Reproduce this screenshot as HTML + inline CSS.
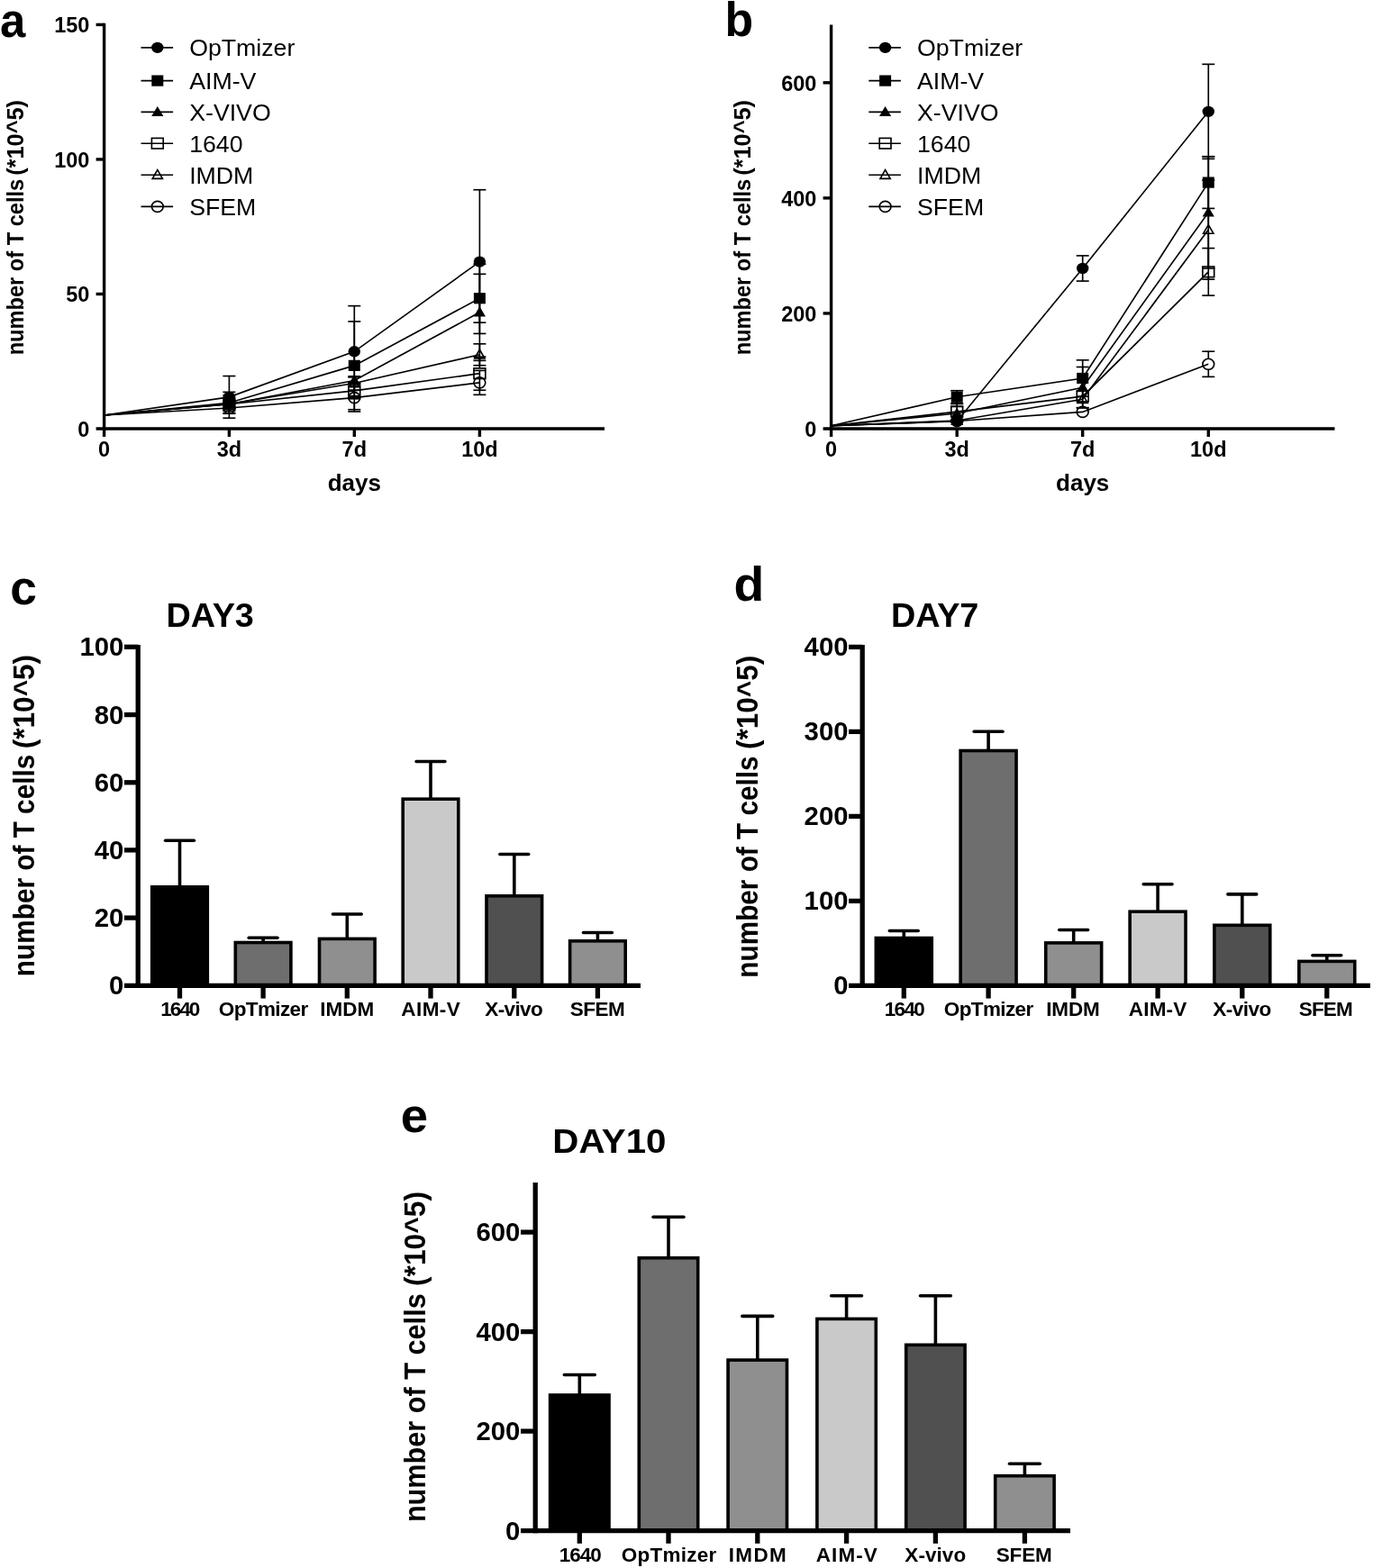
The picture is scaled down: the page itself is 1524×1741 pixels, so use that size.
<!DOCTYPE html>
<html lang="en">
<head>
<meta charset="utf-8">
<title>T cell expansion in different media</title>
<style>html,body{margin:0;padding:0;background:#fff}svg{display:block}</style>
</head>
<body>
<svg width="1524" height="1741" viewBox="0 0 1524 1741" font-family='"Liberation Sans", Arial, Helvetica, sans-serif' fill="#000">
<rect width="1524" height="1741" fill="#fff"/>
<g>
<text x="0" y="40.5" font-size="54.5" font-weight="bold" textLength="28.3" lengthAdjust="spacingAndGlyphs">a</text>
<line x1="115.6" y1="25.75" x2="115.6" y2="485" stroke="#000" stroke-width="3.4"/>
<line x1="106.6" y1="476" x2="671" y2="476" stroke="#000" stroke-width="3.4"/>
<text x="99.4" y="484.9" font-size="23.5" font-weight="bold" text-anchor="end">0</text>
<line x1="106.6" y1="326.47" x2="115.6" y2="326.47" stroke="#000" stroke-width="3.4"/>
<text x="99.4" y="335.37" font-size="23.5" font-weight="bold" text-anchor="end">50</text>
<line x1="106.6" y1="176.94" x2="115.6" y2="176.94" stroke="#000" stroke-width="3.4"/>
<text x="99.4" y="185.84" font-size="23.5" font-weight="bold" text-anchor="end">100</text>
<line x1="106.6" y1="27.41" x2="115.6" y2="27.41" stroke="#000" stroke-width="3.4"/>
<text x="99.4" y="36.31" font-size="23.5" font-weight="bold" text-anchor="end">150</text>
<text x="115.6" y="507" font-size="23.5" font-weight="bold" text-anchor="middle">0</text>
<line x1="254.4" y1="476" x2="254.4" y2="485" stroke="#000" stroke-width="3.4"/>
<text x="254.4" y="507" font-size="23.5" font-weight="bold" text-anchor="middle">3d</text>
<line x1="393.3" y1="476" x2="393.3" y2="485" stroke="#000" stroke-width="3.4"/>
<text x="393.3" y="507" font-size="23.5" font-weight="bold" text-anchor="middle">7d</text>
<line x1="532.4" y1="476" x2="532.4" y2="485" stroke="#000" stroke-width="3.4"/>
<text x="532.4" y="507" font-size="23.5" font-weight="bold" text-anchor="middle">10d</text>
<text x="393.3" y="545" font-size="26" font-weight="bold" text-anchor="middle">days</text>
<text x="25.6" y="394.3" font-size="26" font-weight="bold" textLength="195.54" lengthAdjust="spacingAndGlyphs" transform="rotate(-90 25.6 394.3)">number of T cells</text>
<text x="25.6" y="111" font-size="26" font-weight="bold" text-anchor="end" textLength="83.86" lengthAdjust="spacingAndGlyphs" transform="rotate(-90 25.6 111)">(*10^5)</text>
<line x1="156.5" y1="52.9" x2="192.1" y2="52.9" stroke="#000" stroke-width="1.65"/>
<ellipse cx="174.8" cy="52.9" rx="6.7" ry="6.2" fill="#000"/>
<text x="210.2" y="62.2" font-size="26.7">OpTmizer</text>
<line x1="156.5" y1="89.6" x2="192.1" y2="89.6" stroke="#000" stroke-width="1.65"/>
<rect x="168.3" y="83.5" width="13" height="12.2" fill="#000"/>
<text x="210.2" y="98.9" font-size="26.7">AIM-V</text>
<line x1="156.5" y1="124.4" x2="192.1" y2="124.4" stroke="#000" stroke-width="1.65"/>
<path d="M174.8 117.9L181.4 129L168.2 129Z" fill="#000"/>
<text x="210.2" y="133.7" font-size="26.7">X-VIVO</text>
<line x1="156.5" y1="159.2" x2="192.1" y2="159.2" stroke="#000" stroke-width="1.65"/>
<rect x="168.4" y="153.4" width="12.8" height="11.6" fill="none" stroke="#000" stroke-width="1.65"/>
<text x="210.2" y="168.5" font-size="26.7">1640</text>
<line x1="156.5" y1="194.2" x2="192.1" y2="194.2" stroke="#000" stroke-width="1.65"/>
<path d="M174.8 188.7L180.4 198.3L169.2 198.3Z" fill="none" stroke="#000" stroke-width="1.65" stroke-linejoin="miter"/>
<text x="210.2" y="203.5" font-size="26.7">IMDM</text>
<line x1="156.5" y1="229.3" x2="192.1" y2="229.3" stroke="#000" stroke-width="1.65"/>
<ellipse cx="174.8" cy="229.3" rx="6.4" ry="6" fill="none" stroke="#000" stroke-width="1.65"/>
<text x="210.2" y="238.6" font-size="26.7">SFEM</text>
<line x1="254.4" y1="417.53" x2="254.4" y2="464.19" stroke="#000" stroke-width="1.65"/>
<line x1="247.4" y1="417.53" x2="261.4" y2="417.53" stroke="#000" stroke-width="1.65"/>
<line x1="247.4" y1="464.19" x2="261.4" y2="464.19" stroke="#000" stroke-width="1.65"/>
<line x1="393.3" y1="339.63" x2="393.3" y2="441.01" stroke="#000" stroke-width="1.65"/>
<line x1="386.3" y1="339.63" x2="400.3" y2="339.63" stroke="#000" stroke-width="1.65"/>
<line x1="386.3" y1="441.01" x2="400.3" y2="441.01" stroke="#000" stroke-width="1.65"/>
<line x1="532.4" y1="210.73" x2="532.4" y2="370.43" stroke="#000" stroke-width="1.65"/>
<line x1="525.4" y1="210.73" x2="539.4" y2="210.73" stroke="#000" stroke-width="1.65"/>
<line x1="525.4" y1="370.43" x2="539.4" y2="370.43" stroke="#000" stroke-width="1.65"/>
<ellipse cx="254.4" cy="440.86" rx="6.7" ry="6.2" fill="#000"/>
<ellipse cx="393.3" cy="390.32" rx="6.7" ry="6.2" fill="#000"/>
<ellipse cx="532.4" cy="290.58" rx="6.7" ry="6.2" fill="#000"/>
<polyline points="115.6,461.05 254.4,440.86 393.3,390.32 532.4,290.58" fill="none" stroke="#000" stroke-width="1.65"/>
<line x1="254.4" y1="435.33" x2="254.4" y2="459.25" stroke="#000" stroke-width="1.65"/>
<line x1="247.4" y1="435.33" x2="261.4" y2="435.33" stroke="#000" stroke-width="1.65"/>
<line x1="247.4" y1="459.25" x2="261.4" y2="459.25" stroke="#000" stroke-width="1.65"/>
<line x1="393.3" y1="356.97" x2="393.3" y2="454.77" stroke="#000" stroke-width="1.65"/>
<line x1="386.3" y1="356.97" x2="400.3" y2="356.97" stroke="#000" stroke-width="1.65"/>
<line x1="386.3" y1="454.77" x2="400.3" y2="454.77" stroke="#000" stroke-width="1.65"/>
<line x1="532.4" y1="304.34" x2="532.4" y2="358.17" stroke="#000" stroke-width="1.65"/>
<line x1="525.4" y1="304.34" x2="539.4" y2="304.34" stroke="#000" stroke-width="1.65"/>
<line x1="525.4" y1="358.17" x2="539.4" y2="358.17" stroke="#000" stroke-width="1.65"/>
<rect x="247.9" y="441.19" width="13" height="12.2" fill="#000"/>
<rect x="386.8" y="399.77" width="13" height="12.2" fill="#000"/>
<rect x="525.9" y="325.15" width="13" height="12.2" fill="#000"/>
<polyline points="115.6,461.05 254.4,447.29 393.3,405.87 532.4,331.25" fill="none" stroke="#000" stroke-width="1.65"/>
<line x1="254.4" y1="441.31" x2="254.4" y2="456.26" stroke="#000" stroke-width="1.65"/>
<line x1="247.4" y1="441.31" x2="261.4" y2="441.31" stroke="#000" stroke-width="1.65"/>
<line x1="247.4" y1="456.26" x2="261.4" y2="456.26" stroke="#000" stroke-width="1.65"/>
<line x1="393.3" y1="418.88" x2="393.3" y2="426.06" stroke="#000" stroke-width="1.65"/>
<line x1="386.3" y1="418.88" x2="400.3" y2="418.88" stroke="#000" stroke-width="1.65"/>
<line x1="386.3" y1="426.06" x2="400.3" y2="426.06" stroke="#000" stroke-width="1.65"/>
<line x1="532.4" y1="293.27" x2="532.4" y2="400.34" stroke="#000" stroke-width="1.65"/>
<line x1="525.4" y1="293.27" x2="539.4" y2="293.27" stroke="#000" stroke-width="1.65"/>
<line x1="525.4" y1="400.34" x2="539.4" y2="400.34" stroke="#000" stroke-width="1.65"/>
<path d="M254.4 442.29L261 453.39L247.8 453.39Z" fill="#000"/>
<path d="M393.3 415.97L399.9 427.07L386.7 427.07Z" fill="#000"/>
<path d="M532.4 340.31L539 351.41L525.8 351.41Z" fill="#000"/>
<polyline points="115.6,461.05 254.4,448.79 393.3,422.47 532.4,346.81" fill="none" stroke="#000" stroke-width="1.65"/>
<line x1="254.4" y1="438.92" x2="254.4" y2="442.99" stroke="#000" stroke-width="1.65"/>
<line x1="254.4" y1="454.59" x2="254.4" y2="458.65" stroke="#000" stroke-width="1.65"/>
<line x1="247.4" y1="438.92" x2="261.4" y2="438.92" stroke="#000" stroke-width="1.65"/>
<line x1="247.4" y1="458.65" x2="261.4" y2="458.65" stroke="#000" stroke-width="1.65"/>
<line x1="393.3" y1="424.86" x2="393.3" y2="428.03" stroke="#000" stroke-width="1.65"/>
<line x1="393.3" y1="439.63" x2="393.3" y2="442.8" stroke="#000" stroke-width="1.65"/>
<line x1="386.3" y1="424.86" x2="400.3" y2="424.86" stroke="#000" stroke-width="1.65"/>
<line x1="386.3" y1="442.8" x2="400.3" y2="442.8" stroke="#000" stroke-width="1.65"/>
<line x1="532.4" y1="396.15" x2="532.4" y2="408.89" stroke="#000" stroke-width="1.65"/>
<line x1="532.4" y1="420.49" x2="532.4" y2="433.23" stroke="#000" stroke-width="1.65"/>
<line x1="525.4" y1="396.15" x2="539.4" y2="396.15" stroke="#000" stroke-width="1.65"/>
<line x1="525.4" y1="433.23" x2="539.4" y2="433.23" stroke="#000" stroke-width="1.65"/>
<rect x="248" y="442.99" width="12.8" height="11.6" fill="none" stroke="#000" stroke-width="1.65"/>
<rect x="386.9" y="428.03" width="12.8" height="11.6" fill="none" stroke="#000" stroke-width="1.65"/>
<rect x="526" y="408.89" width="12.8" height="11.6" fill="none" stroke="#000" stroke-width="1.65"/>
<polyline points="115.6,461.05 254.4,448.79 393.3,433.83 532.4,414.69" fill="none" stroke="#000" stroke-width="1.65"/>
<line x1="254.4" y1="442.51" x2="254.4" y2="442.99" stroke="#000" stroke-width="1.65"/>
<line x1="254.4" y1="452.59" x2="254.4" y2="454.47" stroke="#000" stroke-width="1.65"/>
<line x1="393.3" y1="417.83" x2="393.3" y2="419.96" stroke="#000" stroke-width="1.65"/>
<line x1="393.3" y1="429.56" x2="393.3" y2="433.08" stroke="#000" stroke-width="1.65"/>
<line x1="386.3" y1="417.83" x2="400.3" y2="417.83" stroke="#000" stroke-width="1.65"/>
<line x1="386.3" y1="433.08" x2="400.3" y2="433.08" stroke="#000" stroke-width="1.65"/>
<line x1="532.4" y1="381.8" x2="532.4" y2="388.26" stroke="#000" stroke-width="1.65"/>
<line x1="532.4" y1="397.86" x2="532.4" y2="405.72" stroke="#000" stroke-width="1.65"/>
<line x1="525.4" y1="381.8" x2="539.4" y2="381.8" stroke="#000" stroke-width="1.65"/>
<line x1="525.4" y1="405.72" x2="539.4" y2="405.72" stroke="#000" stroke-width="1.65"/>
<path d="M254.4 442.99L260 452.59L248.8 452.59Z" fill="none" stroke="#000" stroke-width="1.65" stroke-linejoin="miter"/>
<path d="M393.3 419.96L398.9 429.56L387.7 429.56Z" fill="none" stroke="#000" stroke-width="1.65" stroke-linejoin="miter"/>
<path d="M532.4 388.26L538 397.86L526.8 397.86Z" fill="none" stroke="#000" stroke-width="1.65" stroke-linejoin="miter"/>
<polyline points="115.6,461.05 254.4,448.49 393.3,425.46 532.4,393.76" fill="none" stroke="#000" stroke-width="1.65"/>
<line x1="393.3" y1="426.21" x2="393.3" y2="435.61" stroke="#000" stroke-width="1.65"/>
<line x1="393.3" y1="447.61" x2="393.3" y2="457.01" stroke="#000" stroke-width="1.65"/>
<line x1="386.3" y1="426.21" x2="400.3" y2="426.21" stroke="#000" stroke-width="1.65"/>
<line x1="386.3" y1="457.01" x2="400.3" y2="457.01" stroke="#000" stroke-width="1.65"/>
<line x1="532.4" y1="411.4" x2="532.4" y2="418.86" stroke="#000" stroke-width="1.65"/>
<line x1="532.4" y1="430.86" x2="532.4" y2="438.32" stroke="#000" stroke-width="1.65"/>
<line x1="525.4" y1="411.4" x2="539.4" y2="411.4" stroke="#000" stroke-width="1.65"/>
<line x1="525.4" y1="438.32" x2="539.4" y2="438.32" stroke="#000" stroke-width="1.65"/>
<ellipse cx="254.4" cy="452.97" rx="6.4" ry="6" fill="none" stroke="#000" stroke-width="1.65"/>
<ellipse cx="393.3" cy="441.61" rx="6.4" ry="6" fill="none" stroke="#000" stroke-width="1.65"/>
<ellipse cx="532.4" cy="424.86" rx="6.4" ry="6" fill="none" stroke="#000" stroke-width="1.65"/>
<polyline points="115.6,461.05 254.4,452.97 393.3,441.61 532.4,424.86" fill="none" stroke="#000" stroke-width="1.65"/>
</g>
<g>
<text x="804.5" y="40.2" font-size="54.5" font-weight="bold" textLength="31.6" lengthAdjust="spacingAndGlyphs">b</text>
<line x1="922.6" y1="27.6" x2="922.6" y2="485" stroke="#000" stroke-width="3.4"/>
<line x1="913.6" y1="476" x2="1481.5" y2="476" stroke="#000" stroke-width="3.4"/>
<text x="906.4" y="484.9" font-size="23.5" font-weight="bold" text-anchor="end">0</text>
<line x1="913.6" y1="347.94" x2="922.6" y2="347.94" stroke="#000" stroke-width="3.4"/>
<text x="906.4" y="356.84" font-size="23.5" font-weight="bold" text-anchor="end">200</text>
<line x1="913.6" y1="219.88" x2="922.6" y2="219.88" stroke="#000" stroke-width="3.4"/>
<text x="906.4" y="228.78" font-size="23.5" font-weight="bold" text-anchor="end">400</text>
<line x1="913.6" y1="91.82" x2="922.6" y2="91.82" stroke="#000" stroke-width="3.4"/>
<text x="906.4" y="100.72" font-size="23.5" font-weight="bold" text-anchor="end">600</text>
<text x="922.6" y="507" font-size="23.5" font-weight="bold" text-anchor="middle">0</text>
<line x1="1062.2" y1="476" x2="1062.2" y2="485" stroke="#000" stroke-width="3.4"/>
<text x="1062.2" y="507" font-size="23.5" font-weight="bold" text-anchor="middle">3d</text>
<line x1="1201.7" y1="476" x2="1201.7" y2="485" stroke="#000" stroke-width="3.4"/>
<text x="1201.7" y="507" font-size="23.5" font-weight="bold" text-anchor="middle">7d</text>
<line x1="1341.3" y1="476" x2="1341.3" y2="485" stroke="#000" stroke-width="3.4"/>
<text x="1341.3" y="507" font-size="23.5" font-weight="bold" text-anchor="middle">10d</text>
<text x="1201.7" y="545" font-size="26" font-weight="bold" text-anchor="middle">days</text>
<text x="832.6" y="394.3" font-size="26" font-weight="bold" textLength="195.54" lengthAdjust="spacingAndGlyphs" transform="rotate(-90 832.6 394.3)">number of T cells</text>
<text x="832.6" y="111" font-size="26" font-weight="bold" text-anchor="end" textLength="83.86" lengthAdjust="spacingAndGlyphs" transform="rotate(-90 832.6 111)">(*10^5)</text>
<line x1="964.3" y1="52.9" x2="999.9" y2="52.9" stroke="#000" stroke-width="1.65"/>
<ellipse cx="982.6" cy="52.9" rx="6.7" ry="6.2" fill="#000"/>
<text x="1018" y="62.2" font-size="26.7">OpTmizer</text>
<line x1="964.3" y1="89.6" x2="999.9" y2="89.6" stroke="#000" stroke-width="1.65"/>
<rect x="976.1" y="83.5" width="13" height="12.2" fill="#000"/>
<text x="1018" y="98.9" font-size="26.7">AIM-V</text>
<line x1="964.3" y1="124.4" x2="999.9" y2="124.4" stroke="#000" stroke-width="1.65"/>
<path d="M982.6 117.9L989.2 129L976 129Z" fill="#000"/>
<text x="1018" y="133.7" font-size="26.7">X-VIVO</text>
<line x1="964.3" y1="159.2" x2="999.9" y2="159.2" stroke="#000" stroke-width="1.65"/>
<rect x="976.2" y="153.4" width="12.8" height="11.6" fill="none" stroke="#000" stroke-width="1.65"/>
<text x="1018" y="168.5" font-size="26.7">1640</text>
<line x1="964.3" y1="194.2" x2="999.9" y2="194.2" stroke="#000" stroke-width="1.65"/>
<path d="M982.6 188.7L988.2 198.3L977 198.3Z" fill="none" stroke="#000" stroke-width="1.65" stroke-linejoin="miter"/>
<text x="1018" y="203.5" font-size="26.7">IMDM</text>
<line x1="964.3" y1="229.3" x2="999.9" y2="229.3" stroke="#000" stroke-width="1.65"/>
<ellipse cx="982.6" cy="229.3" rx="6.4" ry="6" fill="none" stroke="#000" stroke-width="1.65"/>
<text x="1018" y="238.6" font-size="26.7">SFEM</text>
<line x1="1062.2" y1="466.72" x2="1062.2" y2="468.64" stroke="#000" stroke-width="1.65"/>
<line x1="1055.2" y1="466.72" x2="1069.2" y2="466.72" stroke="#000" stroke-width="1.65"/>
<line x1="1055.2" y1="468.64" x2="1069.2" y2="468.64" stroke="#000" stroke-width="1.65"/>
<line x1="1201.7" y1="283.91" x2="1201.7" y2="312.08" stroke="#000" stroke-width="1.65"/>
<line x1="1194.7" y1="283.91" x2="1208.7" y2="283.91" stroke="#000" stroke-width="1.65"/>
<line x1="1194.7" y1="312.08" x2="1208.7" y2="312.08" stroke="#000" stroke-width="1.65"/>
<line x1="1341.3" y1="71.33" x2="1341.3" y2="176.34" stroke="#000" stroke-width="1.65"/>
<line x1="1334.3" y1="71.33" x2="1348.3" y2="71.33" stroke="#000" stroke-width="1.65"/>
<line x1="1334.3" y1="176.34" x2="1348.3" y2="176.34" stroke="#000" stroke-width="1.65"/>
<ellipse cx="1062.2" cy="467.68" rx="6.7" ry="6.2" fill="#000"/>
<ellipse cx="1201.7" cy="298" rx="6.7" ry="6.2" fill="#000"/>
<ellipse cx="1341.3" cy="123.84" rx="6.7" ry="6.2" fill="#000"/>
<polyline points="922.6,472.8 1062.2,467.68 1201.7,298 1341.3,123.84" fill="none" stroke="#000" stroke-width="1.65"/>
<line x1="1062.2" y1="433.74" x2="1062.2" y2="447.83" stroke="#000" stroke-width="1.65"/>
<line x1="1055.2" y1="433.74" x2="1069.2" y2="433.74" stroke="#000" stroke-width="1.65"/>
<line x1="1055.2" y1="447.83" x2="1069.2" y2="447.83" stroke="#000" stroke-width="1.65"/>
<line x1="1201.7" y1="399.8" x2="1201.7" y2="440.14" stroke="#000" stroke-width="1.65"/>
<line x1="1194.7" y1="399.8" x2="1208.7" y2="399.8" stroke="#000" stroke-width="1.65"/>
<line x1="1194.7" y1="440.14" x2="1208.7" y2="440.14" stroke="#000" stroke-width="1.65"/>
<line x1="1341.3" y1="173.78" x2="1341.3" y2="231.41" stroke="#000" stroke-width="1.65"/>
<line x1="1334.3" y1="173.78" x2="1348.3" y2="173.78" stroke="#000" stroke-width="1.65"/>
<line x1="1334.3" y1="231.41" x2="1348.3" y2="231.41" stroke="#000" stroke-width="1.65"/>
<rect x="1055.7" y="434.68" width="13" height="12.2" fill="#000"/>
<rect x="1195.2" y="413.87" width="13" height="12.2" fill="#000"/>
<rect x="1334.8" y="196.49" width="13" height="12.2" fill="#000"/>
<polyline points="922.6,472.8 1062.2,440.78 1201.7,419.97 1341.3,202.59" fill="none" stroke="#000" stroke-width="1.65"/>
<line x1="1062.2" y1="451.35" x2="1062.2" y2="466.72" stroke="#000" stroke-width="1.65"/>
<line x1="1055.2" y1="451.35" x2="1069.2" y2="451.35" stroke="#000" stroke-width="1.65"/>
<line x1="1055.2" y1="466.72" x2="1069.2" y2="466.72" stroke="#000" stroke-width="1.65"/>
<line x1="1201.7" y1="407.49" x2="1201.7" y2="452.95" stroke="#000" stroke-width="1.65"/>
<line x1="1194.7" y1="407.49" x2="1208.7" y2="407.49" stroke="#000" stroke-width="1.65"/>
<line x1="1194.7" y1="452.95" x2="1208.7" y2="452.95" stroke="#000" stroke-width="1.65"/>
<line x1="1341.3" y1="173.78" x2="1341.3" y2="298" stroke="#000" stroke-width="1.65"/>
<line x1="1334.3" y1="173.78" x2="1348.3" y2="173.78" stroke="#000" stroke-width="1.65"/>
<line x1="1334.3" y1="298" x2="1348.3" y2="298" stroke="#000" stroke-width="1.65"/>
<path d="M1062.2 452.53L1068.8 463.63L1055.6 463.63Z" fill="#000"/>
<path d="M1201.7 423.72L1208.3 434.82L1195.1 434.82Z" fill="#000"/>
<path d="M1341.3 229.39L1347.9 240.49L1334.7 240.49Z" fill="#000"/>
<polyline points="922.6,472.8 1062.2,459.03 1201.7,430.22 1341.3,235.89" fill="none" stroke="#000" stroke-width="1.65"/>
<line x1="1062.2" y1="448.47" x2="1062.2" y2="451.31" stroke="#000" stroke-width="1.65"/>
<line x1="1062.2" y1="462.91" x2="1062.2" y2="465.76" stroke="#000" stroke-width="1.65"/>
<line x1="1055.2" y1="448.47" x2="1069.2" y2="448.47" stroke="#000" stroke-width="1.65"/>
<line x1="1055.2" y1="465.76" x2="1069.2" y2="465.76" stroke="#000" stroke-width="1.65"/>
<line x1="1341.3" y1="275.59" x2="1341.3" y2="296.04" stroke="#000" stroke-width="1.65"/>
<line x1="1341.3" y1="307.64" x2="1341.3" y2="328.09" stroke="#000" stroke-width="1.65"/>
<line x1="1334.3" y1="275.59" x2="1348.3" y2="275.59" stroke="#000" stroke-width="1.65"/>
<line x1="1334.3" y1="328.09" x2="1348.3" y2="328.09" stroke="#000" stroke-width="1.65"/>
<rect x="1055.8" y="451.31" width="12.8" height="11.6" fill="none" stroke="#000" stroke-width="1.65"/>
<rect x="1195.3" y="434.34" width="12.8" height="11.6" fill="none" stroke="#000" stroke-width="1.65"/>
<rect x="1334.9" y="296.04" width="12.8" height="11.6" fill="none" stroke="#000" stroke-width="1.65"/>
<polyline points="922.6,472.8 1062.2,457.11 1201.7,440.14 1341.3,301.84" fill="none" stroke="#000" stroke-width="1.65"/>
<line x1="1062.2" y1="471.14" x2="1062.2" y2="471.52" stroke="#000" stroke-width="1.65"/>
<line x1="1201.7" y1="434.06" x2="1201.7" y2="437.84" stroke="#000" stroke-width="1.65"/>
<line x1="1201.7" y1="447.44" x2="1201.7" y2="452.63" stroke="#000" stroke-width="1.65"/>
<line x1="1194.7" y1="434.06" x2="1208.7" y2="434.06" stroke="#000" stroke-width="1.65"/>
<line x1="1194.7" y1="452.63" x2="1208.7" y2="452.63" stroke="#000" stroke-width="1.65"/>
<line x1="1341.3" y1="200.03" x2="1341.3" y2="249.6" stroke="#000" stroke-width="1.65"/>
<line x1="1341.3" y1="259.2" x2="1341.3" y2="310.16" stroke="#000" stroke-width="1.65"/>
<line x1="1334.3" y1="200.03" x2="1348.3" y2="200.03" stroke="#000" stroke-width="1.65"/>
<line x1="1334.3" y1="310.16" x2="1348.3" y2="310.16" stroke="#000" stroke-width="1.65"/>
<path d="M1062.2 461.54L1067.8 471.14L1056.6 471.14Z" fill="none" stroke="#000" stroke-width="1.65" stroke-linejoin="miter"/>
<path d="M1201.7 437.84L1207.3 447.44L1196.1 447.44Z" fill="none" stroke="#000" stroke-width="1.65" stroke-linejoin="miter"/>
<path d="M1341.3 249.6L1346.9 259.2L1335.7 259.2Z" fill="none" stroke="#000" stroke-width="1.65" stroke-linejoin="miter"/>
<polyline points="922.6,472.8 1062.2,467.04 1201.7,443.34 1341.3,255.1" fill="none" stroke="#000" stroke-width="1.65"/>
<line x1="1341.3" y1="390.2" x2="1341.3" y2="398.29" stroke="#000" stroke-width="1.65"/>
<line x1="1341.3" y1="410.29" x2="1341.3" y2="418.37" stroke="#000" stroke-width="1.65"/>
<line x1="1334.3" y1="390.2" x2="1348.3" y2="390.2" stroke="#000" stroke-width="1.65"/>
<line x1="1334.3" y1="418.37" x2="1348.3" y2="418.37" stroke="#000" stroke-width="1.65"/>
<ellipse cx="1062.2" cy="467.48" rx="6.4" ry="6" fill="none" stroke="#000" stroke-width="1.65"/>
<ellipse cx="1201.7" cy="457.43" rx="6.4" ry="6" fill="none" stroke="#000" stroke-width="1.65"/>
<ellipse cx="1341.3" cy="404.29" rx="6.4" ry="6" fill="none" stroke="#000" stroke-width="1.65"/>
<polyline points="922.6,472.8 1062.2,467.48 1201.7,457.43 1341.3,404.29" fill="none" stroke="#000" stroke-width="1.65"/>
</g>
<g>
<text x="11.3" y="671.3" font-size="54.5" font-weight="bold" textLength="29.7" lengthAdjust="spacingAndGlyphs">c</text>
<text x="184.5" y="696" font-size="36" font-weight="bold" textLength="97.4" lengthAdjust="spacingAndGlyphs">DAY3</text>
<line x1="199.5" y1="933.2" x2="199.5" y2="984" stroke="#000" stroke-width="3.6"/>
<line x1="183.6" y1="933.2" x2="215.4" y2="933.2" stroke="#000" stroke-width="3.6" stroke-linecap="round"/>
<rect x="168.7" y="984.8" width="61.6" height="109.6" fill="#000000" stroke="#000" stroke-width="3.6"/>
<line x1="199.5" y1="1094.4" x2="199.5" y2="1108.6" stroke="#000" stroke-width="5.3"/>
<line x1="292.1" y1="1041.3" x2="292.1" y2="1045.7" stroke="#000" stroke-width="3.6"/>
<line x1="276.2" y1="1041.3" x2="308" y2="1041.3" stroke="#000" stroke-width="3.6" stroke-linecap="round"/>
<rect x="261.3" y="1046.5" width="61.6" height="47.9" fill="#6e6e6e" stroke="#000" stroke-width="3.6"/>
<line x1="292.1" y1="1094.4" x2="292.1" y2="1108.6" stroke="#000" stroke-width="5.3"/>
<line x1="385.3" y1="1015" x2="385.3" y2="1041.6" stroke="#000" stroke-width="3.6"/>
<line x1="369.4" y1="1015" x2="401.2" y2="1015" stroke="#000" stroke-width="3.6" stroke-linecap="round"/>
<rect x="354.5" y="1042.4" width="61.6" height="52" fill="#8f8f8f" stroke="#000" stroke-width="3.6"/>
<line x1="385.3" y1="1094.4" x2="385.3" y2="1108.6" stroke="#000" stroke-width="5.3"/>
<line x1="478" y1="845.5" x2="478" y2="886.4" stroke="#000" stroke-width="3.6"/>
<line x1="462.1" y1="845.5" x2="493.9" y2="845.5" stroke="#000" stroke-width="3.6" stroke-linecap="round"/>
<rect x="447.2" y="887.2" width="61.6" height="207.2" fill="#c9c9c9" stroke="#000" stroke-width="3.6"/>
<line x1="478" y1="1094.4" x2="478" y2="1108.6" stroke="#000" stroke-width="5.3"/>
<line x1="570.8" y1="948.5" x2="570.8" y2="994" stroke="#000" stroke-width="3.6"/>
<line x1="554.9" y1="948.5" x2="586.7" y2="948.5" stroke="#000" stroke-width="3.6" stroke-linecap="round"/>
<rect x="540" y="994.8" width="61.6" height="99.6" fill="#505050" stroke="#000" stroke-width="3.6"/>
<line x1="570.8" y1="1094.4" x2="570.8" y2="1108.6" stroke="#000" stroke-width="5.3"/>
<line x1="663.4" y1="1035.5" x2="663.4" y2="1044" stroke="#000" stroke-width="3.6"/>
<line x1="647.5" y1="1035.5" x2="679.3" y2="1035.5" stroke="#000" stroke-width="3.6" stroke-linecap="round"/>
<rect x="632.6" y="1044.8" width="61.6" height="49.6" fill="#8f8f8f" stroke="#000" stroke-width="3.6"/>
<line x1="663.4" y1="1094.4" x2="663.4" y2="1108.6" stroke="#000" stroke-width="5.3"/>
<line x1="153.2" y1="716" x2="153.2" y2="1097.05" stroke="#000" stroke-width="5.3"/>
<line x1="138" y1="1094.4" x2="711" y2="1094.4" stroke="#000" stroke-width="5.3"/>
<text x="137.4" y="1104.3" font-size="29.3" font-weight="bold" text-anchor="end">0</text>
<line x1="138" y1="1019.1" x2="153.2" y2="1019.1" stroke="#000" stroke-width="5.3"/>
<text x="137.4" y="1029" font-size="29.3" font-weight="bold" text-anchor="end">20</text>
<line x1="138" y1="943.9" x2="153.2" y2="943.9" stroke="#000" stroke-width="5.3"/>
<text x="137.4" y="953.8" font-size="29.3" font-weight="bold" text-anchor="end">40</text>
<line x1="138" y1="868.8" x2="153.2" y2="868.8" stroke="#000" stroke-width="5.3"/>
<text x="137.4" y="878.7" font-size="29.3" font-weight="bold" text-anchor="end">60</text>
<line x1="138" y1="793.6" x2="153.2" y2="793.6" stroke="#000" stroke-width="5.3"/>
<text x="137.4" y="803.5" font-size="29.3" font-weight="bold" text-anchor="end">80</text>
<line x1="138" y1="718.3" x2="153.2" y2="718.3" stroke="#000" stroke-width="5.3"/>
<text x="137.4" y="728.2" font-size="29.3" font-weight="bold" text-anchor="end">100</text>
<text x="178.3" y="1128.3" font-size="22.5" font-weight="bold" textLength="43.9" lengthAdjust="spacing">1640</text>
<text x="242.8" y="1128.3" font-size="22.5" font-weight="bold" textLength="99.4" lengthAdjust="spacing">OpTmizer</text>
<text x="355.3" y="1128.3" font-size="22.5" font-weight="bold" textLength="59.9" lengthAdjust="spacing">IMDM</text>
<text x="445.3" y="1128.3" font-size="22.5" font-weight="bold" textLength="65.4" lengthAdjust="spacing">AIM-V</text>
<text x="538.3" y="1128.3" font-size="22.5" font-weight="bold" textLength="64.4" lengthAdjust="spacing">X-vivo</text>
<text x="632.8" y="1128.3" font-size="22.5" font-weight="bold" textLength="60.9" lengthAdjust="spacing">SFEM</text>
<text x="38.4" y="1084.12" font-size="32.5" font-weight="bold" textLength="246.43" lengthAdjust="spacingAndGlyphs" transform="rotate(-90 38.4 1084.12)">number of T cells</text>
<text x="38.4" y="726.98" font-size="32.5" font-weight="bold" text-anchor="end" textLength="104.18" lengthAdjust="spacingAndGlyphs" transform="rotate(-90 38.4 726.98)">(*10^5)</text>
</g>
<g>
<text x="814.5" y="667.4" font-size="54.5" font-weight="bold" textLength="33.8" lengthAdjust="spacingAndGlyphs">d</text>
<text x="989" y="696" font-size="36" font-weight="bold" textLength="97.4" lengthAdjust="spacingAndGlyphs">DAY7</text>
<line x1="1003.3" y1="1033.5" x2="1003.3" y2="1040.7" stroke="#000" stroke-width="3.6"/>
<line x1="987.4" y1="1033.5" x2="1019.2" y2="1033.5" stroke="#000" stroke-width="3.6" stroke-linecap="round"/>
<rect x="972.35" y="1041.5" width="61.9" height="52.9" fill="#000000" stroke="#000" stroke-width="3.6"/>
<line x1="1003.3" y1="1094.4" x2="1003.3" y2="1108.6" stroke="#000" stroke-width="5.3"/>
<line x1="1097.1" y1="812.3" x2="1097.1" y2="832.7" stroke="#000" stroke-width="3.6"/>
<line x1="1081.2" y1="812.3" x2="1113" y2="812.3" stroke="#000" stroke-width="3.6" stroke-linecap="round"/>
<rect x="1066.15" y="833.5" width="61.9" height="260.9" fill="#6e6e6e" stroke="#000" stroke-width="3.6"/>
<line x1="1097.1" y1="1094.4" x2="1097.1" y2="1108.6" stroke="#000" stroke-width="5.3"/>
<line x1="1191.7" y1="1032.5" x2="1191.7" y2="1046.1" stroke="#000" stroke-width="3.6"/>
<line x1="1175.8" y1="1032.5" x2="1207.6" y2="1032.5" stroke="#000" stroke-width="3.6" stroke-linecap="round"/>
<rect x="1160.75" y="1046.9" width="61.9" height="47.5" fill="#8f8f8f" stroke="#000" stroke-width="3.6"/>
<line x1="1191.7" y1="1094.4" x2="1191.7" y2="1108.6" stroke="#000" stroke-width="5.3"/>
<line x1="1285.1" y1="981.7" x2="1285.1" y2="1011.4" stroke="#000" stroke-width="3.6"/>
<line x1="1269.2" y1="981.7" x2="1301" y2="981.7" stroke="#000" stroke-width="3.6" stroke-linecap="round"/>
<rect x="1254.15" y="1012.2" width="61.9" height="82.2" fill="#c9c9c9" stroke="#000" stroke-width="3.6"/>
<line x1="1285.1" y1="1094.4" x2="1285.1" y2="1108.6" stroke="#000" stroke-width="5.3"/>
<line x1="1378.8" y1="992.9" x2="1378.8" y2="1026.5" stroke="#000" stroke-width="3.6"/>
<line x1="1362.9" y1="992.9" x2="1394.7" y2="992.9" stroke="#000" stroke-width="3.6" stroke-linecap="round"/>
<rect x="1347.85" y="1027.3" width="61.9" height="67.1" fill="#505050" stroke="#000" stroke-width="3.6"/>
<line x1="1378.8" y1="1094.4" x2="1378.8" y2="1108.6" stroke="#000" stroke-width="5.3"/>
<line x1="1472.8" y1="1060.8" x2="1472.8" y2="1066.6" stroke="#000" stroke-width="3.6"/>
<line x1="1456.9" y1="1060.8" x2="1488.7" y2="1060.8" stroke="#000" stroke-width="3.6" stroke-linecap="round"/>
<rect x="1441.85" y="1067.4" width="61.9" height="27" fill="#8f8f8f" stroke="#000" stroke-width="3.6"/>
<line x1="1472.8" y1="1094.4" x2="1472.8" y2="1108.6" stroke="#000" stroke-width="5.3"/>
<line x1="957.2" y1="716" x2="957.2" y2="1097.05" stroke="#000" stroke-width="5.3"/>
<line x1="942.1" y1="1094.4" x2="1521" y2="1094.4" stroke="#000" stroke-width="5.3"/>
<text x="941.5" y="1104.3" font-size="29.3" font-weight="bold" text-anchor="end">0</text>
<line x1="942.1" y1="1000.4" x2="957.2" y2="1000.4" stroke="#000" stroke-width="5.3"/>
<text x="941.5" y="1010.3" font-size="29.3" font-weight="bold" text-anchor="end">100</text>
<line x1="942.1" y1="906.4" x2="957.2" y2="906.4" stroke="#000" stroke-width="5.3"/>
<text x="941.5" y="916.3" font-size="29.3" font-weight="bold" text-anchor="end">200</text>
<line x1="942.1" y1="812.4" x2="957.2" y2="812.4" stroke="#000" stroke-width="5.3"/>
<text x="941.5" y="822.3" font-size="29.3" font-weight="bold" text-anchor="end">300</text>
<line x1="942.1" y1="718.4" x2="957.2" y2="718.4" stroke="#000" stroke-width="5.3"/>
<text x="941.5" y="728.3" font-size="29.3" font-weight="bold" text-anchor="end">400</text>
<text x="981.8" y="1128.3" font-size="22.5" font-weight="bold" textLength="44.9" lengthAdjust="spacing">1640</text>
<text x="1047.8" y="1128.3" font-size="22.5" font-weight="bold" textLength="99.4" lengthAdjust="spacing">OpTmizer</text>
<text x="1161.3" y="1128.3" font-size="22.5" font-weight="bold" textLength="59.4" lengthAdjust="spacing">IMDM</text>
<text x="1252.8" y="1128.3" font-size="22.5" font-weight="bold" textLength="64.4" lengthAdjust="spacing">AIM-V</text>
<text x="1346.3" y="1128.3" font-size="22.5" font-weight="bold" textLength="64.9" lengthAdjust="spacing">X-vivo</text>
<text x="1441.8" y="1128.3" font-size="22.5" font-weight="bold" textLength="59.9" lengthAdjust="spacing">SFEM</text>
<text x="840.9" y="1085.62" font-size="32.5" font-weight="bold" textLength="246.22" lengthAdjust="spacingAndGlyphs" transform="rotate(-90 840.9 1085.62)">number of T cells</text>
<text x="840.9" y="727.88" font-size="32.5" font-weight="bold" text-anchor="end" textLength="104.08" lengthAdjust="spacingAndGlyphs" transform="rotate(-90 840.9 727.88)">(*10^5)</text>
</g>
<g>
<text x="444.8" y="1256.6" font-size="54.5" font-weight="bold" textLength="30.3" lengthAdjust="spacingAndGlyphs">e</text>
<text x="613.3" y="1280" font-size="36" font-weight="bold" textLength="126.2" lengthAdjust="spacingAndGlyphs">DAY10</text>
<line x1="643.3" y1="1526.5" x2="643.3" y2="1548.2" stroke="#000" stroke-width="3.6"/>
<line x1="626.4" y1="1526.5" x2="660.2" y2="1526.5" stroke="#000" stroke-width="3.6" stroke-linecap="round"/>
<rect x="610.6" y="1549" width="65.4" height="150.6" fill="#000000" stroke="#000" stroke-width="3.6"/>
<line x1="643.3" y1="1699.6" x2="643.3" y2="1713.8" stroke="#000" stroke-width="5.3"/>
<line x1="742" y1="1351.2" x2="742" y2="1395.9" stroke="#000" stroke-width="3.6"/>
<line x1="725.1" y1="1351.2" x2="758.9" y2="1351.2" stroke="#000" stroke-width="3.6" stroke-linecap="round"/>
<rect x="709.3" y="1396.7" width="65.4" height="302.9" fill="#6e6e6e" stroke="#000" stroke-width="3.6"/>
<line x1="742" y1="1699.6" x2="742" y2="1713.8" stroke="#000" stroke-width="5.3"/>
<line x1="840.8" y1="1461.4" x2="840.8" y2="1509.3" stroke="#000" stroke-width="3.6"/>
<line x1="823.9" y1="1461.4" x2="857.7" y2="1461.4" stroke="#000" stroke-width="3.6" stroke-linecap="round"/>
<rect x="808.1" y="1510.1" width="65.4" height="189.5" fill="#8f8f8f" stroke="#000" stroke-width="3.6"/>
<line x1="840.8" y1="1699.6" x2="840.8" y2="1713.8" stroke="#000" stroke-width="5.3"/>
<line x1="939.6" y1="1438.8" x2="939.6" y2="1463.6" stroke="#000" stroke-width="3.6"/>
<line x1="922.7" y1="1438.8" x2="956.5" y2="1438.8" stroke="#000" stroke-width="3.6" stroke-linecap="round"/>
<rect x="906.9" y="1464.4" width="65.4" height="235.2" fill="#c9c9c9" stroke="#000" stroke-width="3.6"/>
<line x1="939.6" y1="1699.6" x2="939.6" y2="1713.8" stroke="#000" stroke-width="5.3"/>
<line x1="1038.4" y1="1438.8" x2="1038.4" y2="1492.5" stroke="#000" stroke-width="3.6"/>
<line x1="1021.5" y1="1438.8" x2="1055.3" y2="1438.8" stroke="#000" stroke-width="3.6" stroke-linecap="round"/>
<rect x="1005.7" y="1493.3" width="65.4" height="206.3" fill="#505050" stroke="#000" stroke-width="3.6"/>
<line x1="1038.4" y1="1699.6" x2="1038.4" y2="1713.8" stroke="#000" stroke-width="5.3"/>
<line x1="1137.4" y1="1625.2" x2="1137.4" y2="1637.9" stroke="#000" stroke-width="3.6"/>
<line x1="1120.5" y1="1625.2" x2="1154.3" y2="1625.2" stroke="#000" stroke-width="3.6" stroke-linecap="round"/>
<rect x="1104.7" y="1638.7" width="65.4" height="60.9" fill="#8f8f8f" stroke="#000" stroke-width="3.6"/>
<line x1="1137.4" y1="1699.6" x2="1137.4" y2="1713.8" stroke="#000" stroke-width="5.3"/>
<line x1="594.2" y1="1313" x2="594.2" y2="1702.25" stroke="#000" stroke-width="5.3"/>
<line x1="578" y1="1699.6" x2="1188" y2="1699.6" stroke="#000" stroke-width="5.3"/>
<text x="577.4" y="1709.5" font-size="29.3" font-weight="bold" text-anchor="end">0</text>
<line x1="578" y1="1589.1" x2="594.2" y2="1589.1" stroke="#000" stroke-width="5.3"/>
<text x="577.4" y="1599" font-size="29.3" font-weight="bold" text-anchor="end">200</text>
<line x1="578" y1="1478.6" x2="594.2" y2="1478.6" stroke="#000" stroke-width="5.3"/>
<text x="577.4" y="1488.5" font-size="29.3" font-weight="bold" text-anchor="end">400</text>
<line x1="578" y1="1368.1" x2="594.2" y2="1368.1" stroke="#000" stroke-width="5.3"/>
<text x="577.4" y="1378" font-size="29.3" font-weight="bold" text-anchor="end">600</text>
<text x="620.8" y="1733.5" font-size="22.5" font-weight="bold" textLength="46.9" lengthAdjust="spacing">1640</text>
<text x="689.8" y="1733.5" font-size="22.5" font-weight="bold" textLength="105.4" lengthAdjust="spacing">OpTmizer</text>
<text x="808.8" y="1733.5" font-size="22.5" font-weight="bold" textLength="63.9" lengthAdjust="spacing">IMDM</text>
<text x="905.8" y="1733.5" font-size="22.5" font-weight="bold" textLength="67.9" lengthAdjust="spacing">AIM-V</text>
<text x="1004.3" y="1733.5" font-size="22.5" font-weight="bold" textLength="67.9" lengthAdjust="spacing">X-vivo</text>
<text x="1105.8" y="1733.5" font-size="22.5" font-weight="bold" textLength="61.9" lengthAdjust="spacing">SFEM</text>
<text x="471.8" y="1690.12" font-size="32.5" font-weight="bold" textLength="253.83" lengthAdjust="spacingAndGlyphs" transform="rotate(-90 471.8 1690.12)">number of T cells</text>
<text x="471.8" y="1322.97" font-size="32.5" font-weight="bold" text-anchor="end" textLength="104.98" lengthAdjust="spacingAndGlyphs" transform="rotate(-90 471.8 1322.97)">(*10^5)</text>
</g>
</svg>
</body>
</html>
